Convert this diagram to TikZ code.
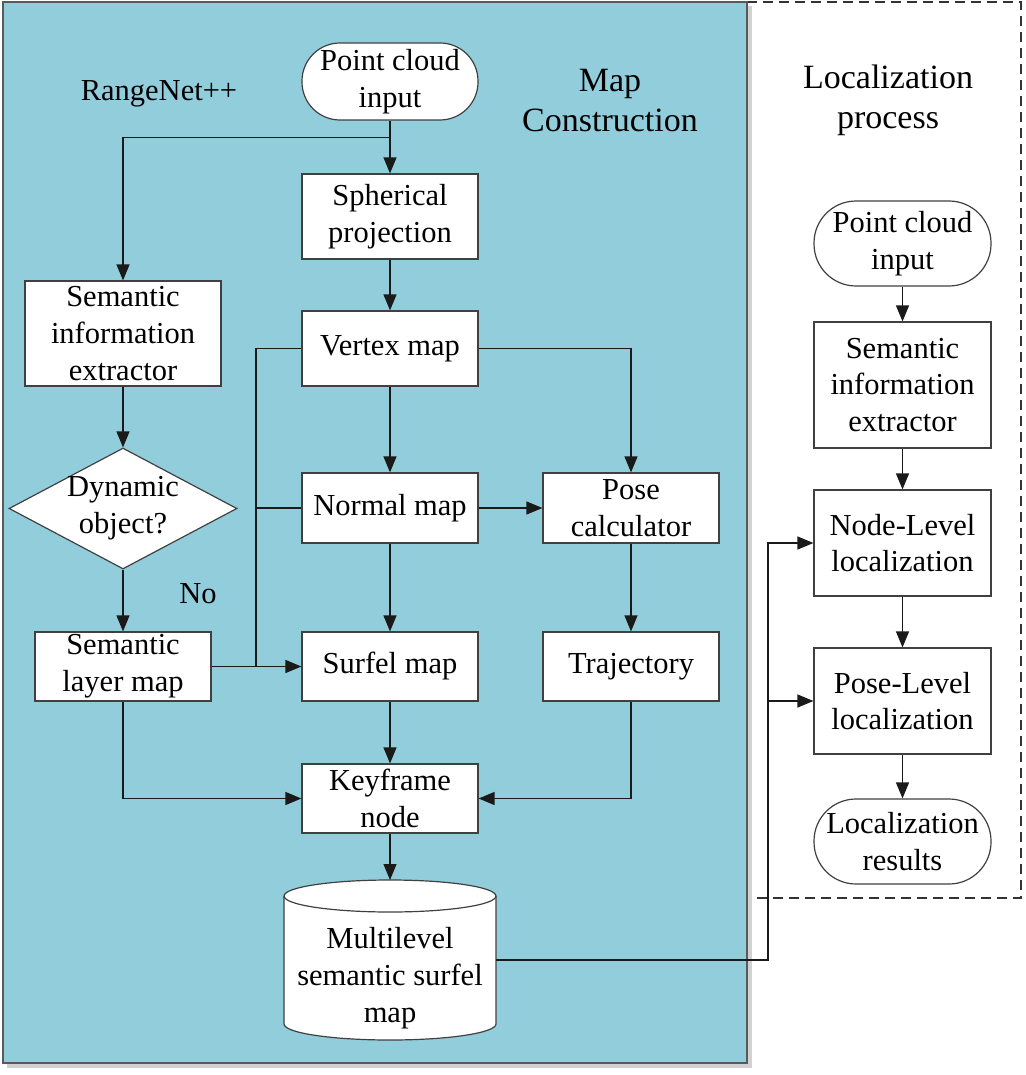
\documentclass[tikz,border=0pt]{standalone}
\usepackage{fontspec}
\setmainfont{Liberation Serif}
\usetikzlibrary{arrows.meta,shapes.geometric,calc}
\definecolor{bluebg}{HTML}{92CDDC}
\definecolor{edgec}{HTML}{404040}
\definecolor{wirec}{HTML}{1A1A1A}
\begin{document}
\begin{tikzpicture}[x=0.5pt,y=-0.5pt,
  txt/.style={font=\fontsize{15.25}{18.4}\selectfont, align=center, text=black},
  box/.style={txt, draw=edgec, fill=white, line width=0.6pt, inner sep=1pt},
  term/.style={box, rounded corners=#1},
  wire/.style={draw=wirec, line width=0.65pt},
  arr/.style={wire, -{Triangle[length=8pt,width=6.5pt]}},
  title/.style={font=\fontsize{17}{20}\selectfont, align=center, text=black}
]
\useasboundingbox (0,0) rectangle (1025,1075);
% dashed localization frame
\draw[black!80, line width=0.7pt, dash pattern=on 5pt off 3pt] (747,2) -- (1021,2) -- (1021,898) -- (752,898);
% shadow and blue map-construction panel
\fill[black!18] (7,6) rectangle (752,1068);
\filldraw[fill=bluebg, draw=black!65, line width=0.7pt] (3,2) rectangle (747,1063);

% titles
\node[title] (tmap) at (610,101) {Map\\Construction};
\node[title] (tloc) at (888,100) {Localization\\process};
\node[txt] (rnet) at (159,94) {RangeNet++};
\node[txt] (no) at (198,594) {No};

% main column
\node[term=19pt, minimum width=88pt, minimum height=38.5pt] (pci) at (390,81.5) {Point cloud\\input};
\node[box, minimum width=88pt, minimum height=42.5pt] (sph) at (390,216.5) {Spherical\\projection};
\node[box, minimum width=88pt, minimum height=37.5pt] (vm) at (390,348.5) {Vertex map};
\node[box, minimum width=88pt, minimum height=35pt] (nm) at (390,508) {Normal map};
\node[box, minimum width=88pt, minimum height=34.5pt] (sm) at (390,666.5) {Surfel map};
\node[box, minimum width=88pt, minimum height=34.5pt] (kf) at (390,798.5) {Keyframe\\node};
\node[box, minimum width=88pt, minimum height=35pt] (pc) at (631,508) {Pose\\calculator};
\node[box, minimum width=88pt, minimum height=34.5pt] (traj) at (631,666.5) {Trajectory};

% left column
\node[box, minimum width=98pt, minimum height=52.5pt] (sie) at (123,333.5) {Semantic\\information\\extractor};
\node[diamond, draw=edgec, fill=white, line width=0.6pt, minimum width=114pt, minimum height=60.5pt, inner sep=0pt,
  label={[txt]center:Dynamic\\object?}] (dia) at (123,508.5) {};
\node[box, minimum width=88pt, minimum height=34.5pt] (slm) at (123,666.5) {Semantic\\layer map};

% cylinder
\filldraw[fill=white, draw=edgec, line width=0.6pt]
  (284,896) -- (284,1024) arc[start angle=180, end angle=360, x radius=53pt, y radius=8pt]
  -- (496,896) arc[start angle=0, end angle=180, x radius=53pt, y radius=8pt] -- cycle;
\draw[draw=edgec, line width=0.6pt] (284,896) arc[start angle=180, end angle=360, x radius=53pt, y radius=8pt];
\coordinate (cyltop) at (390,880);
\coordinate (cylright) at (496,960);
\node[txt] (cyl) at (390,978) {Multilevel\\semantic surfel\\map};

% right column
\node[term=21pt, minimum width=88.5pt, minimum height=42.5pt] (rpci) at (902.5,243.5) {Point cloud\\input};
\node[box, minimum width=88.5pt, minimum height=63pt] (rsie) at (902.5,385) {Semantic\\information\\extractor};
\node[box, minimum width=88.5pt, minimum height=53pt] (nl) at (902.5,543) {Node-Level\\localization};
\node[box, minimum width=88.5pt, minimum height=53pt] (pl) at (902.5,701) {Pose-Level\\localization};
\node[term=21pt, minimum width=88.5pt, minimum height=42.5pt] (res) at (902.5,841.5) {Localization\\results};

% connectors: main
\draw[arr] (pci.south) -- (sph.north);
\draw[arr] (pci.south) ++(0,17) -| (sie.north);
\draw[arr] (sph.south) -- (vm.north);
\draw[arr] (vm.south) -- (nm.north);
\draw[arr] (nm.south) -- (sm.north);
\draw[arr] (sm.south) -- (kf.north);
\draw[arr] (kf.south) -- (cyltop);
\draw[arr] (vm.east) -| (pc.north);
\draw[arr] (nm.east) -- (pc.west);
\draw[arr] (pc.south) -- (traj.north);
\draw[arr] (traj.south) |- (kf.east);
\draw[arr] (slm.south) |- (kf.west);
\draw[arr] (slm.east) -- (sm.west);
\coordinate (jx) at (256,666.5);
\draw[wire] (vm.west) -| (jx);
\draw[wire] (nm.west) -- (nm.west -| jx);
\draw[arr] (sie.south) -- (dia.north);
\draw[arr] (dia.south) -- (slm.north);

% connectors: to localization
\coordinate (cx) at (768,960);
\draw[arr] (cylright) -- (cx) |- (nl.west);
\draw[arr] (cx |- pl.west) -- (pl.west);

% connectors: right
\draw[arr] (rpci.south) -- (rsie.north);
\draw[arr] (rsie.south) -- (nl.north);
\draw[arr] (nl.south) -- (pl.north);
\draw[arr] (pl.south) -- (res.north);
\end{tikzpicture}
\end{document}
